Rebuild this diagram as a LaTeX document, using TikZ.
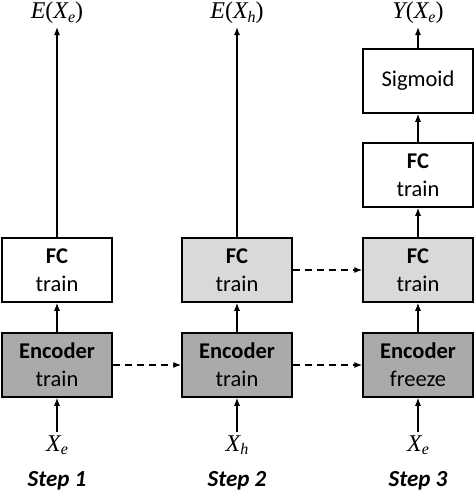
\documentclass[tikz,border=0pt]{standalone}
\usepackage{fontspec}
\setmainfont{Carlito}
\newfontfamily\serfont{Liberation Serif}
\usetikzlibrary{arrows.meta}
\definecolor{encgray}{RGB}{170,170,170}
\definecolor{fcgray}{RGB}{217,217,217}
\newcommand{\vlab}[2]{{\serfont\itshape #1\raisebox{-0.3ex}{\fontsize{16}{16}\selectfont #2}}}
\begin{document}
\begin{tikzpicture}[x=1pt,y=1pt,
  box/.style={draw=black,line width=1.5pt,minimum width=110pt,minimum height=64pt,inner sep=0pt,align=center,font=\fontsize{22.5}{28}\selectfont},
  enc/.style={box,fill=encgray},
  fcl/.style={box,fill=fcgray},
  lab/.style={font=\fontsize{24}{26}\selectfont,inner sep=3pt},
  steplab/.style={font=\fontsize{23}{26}\selectfont\bfseries\itshape},
  arr/.style={line width=1.2pt,-{Latex[length=8pt,width=6pt]}},
  darr/.style={arr,dash pattern=on 7pt off 5pt}]
\useasboundingbox (0,0) rectangle (474,-493);
% column 1
\node[box] (fc1) at (57,-270) {\textbf{FC}\\train};
\node[enc] (enc1) at (57,-365) {\textbf{Encoder}\\train};
\node[lab] (in1) at (57,-445) {\vlab{X}{e}};
\node[lab] (out1) at (57,-13) {{\serfont\itshape E}{\serfont(}\vlab{X}{e}{\serfont)}};
\node[steplab] (st1) at (57,-481) {Step 1};
% column 2
\node[fcl] (fc2) at (237,-270) {\textbf{FC}\\train};
\node[enc] (enc2) at (237,-365) {\textbf{Encoder}\\train};
\node[lab] (in2) at (237,-445) {\vlab{X}{h}};
\node[lab] (out2) at (237,-13) {{\serfont\itshape E}{\serfont(}\vlab{X}{h}{\serfont)}};
\node[steplab] (st2) at (237,-481) {Step 2};
% column 3
\node[box] (sig) at (418,-81) {Sigmoid};
\node[box] (fc3b) at (418,-175) {\textbf{FC}\\train};
\node[fcl] (fc3) at (418,-270) {\textbf{FC}\\train};
\node[enc] (enc3) at (418,-365) {\textbf{Encoder}\\freeze};
\node[lab] (in3) at (418,-445) {\vlab{X}{e}};
\node[lab] (out3) at (418,-13) {{\serfont\itshape Y}{\serfont(}\vlab{X}{e}{\serfont)}};
\node[steplab] (st3) at (418,-481) {Step 3};
% arrows
\draw[arr] (in1) -- (enc1);
\draw[arr] (enc1) -- (fc1);
\draw[arr] (fc1) -- (out1);
\draw[arr] (in2) -- (enc2);
\draw[arr] (enc2) -- (fc2);
\draw[arr] (fc2) -- (out2);
\draw[arr] (in3) -- (enc3);
\draw[arr] (enc3) -- (fc3);
\draw[arr] (fc3) -- (fc3b);
\draw[arr] (fc3b) -- (sig);
\draw[arr] (sig) -- (out3);
\draw[darr] (enc1) -- (enc2);
\draw[darr] (enc2) -- (enc3);
\draw[darr] (fc2) -- (fc3);
\end{tikzpicture}
\end{document}
